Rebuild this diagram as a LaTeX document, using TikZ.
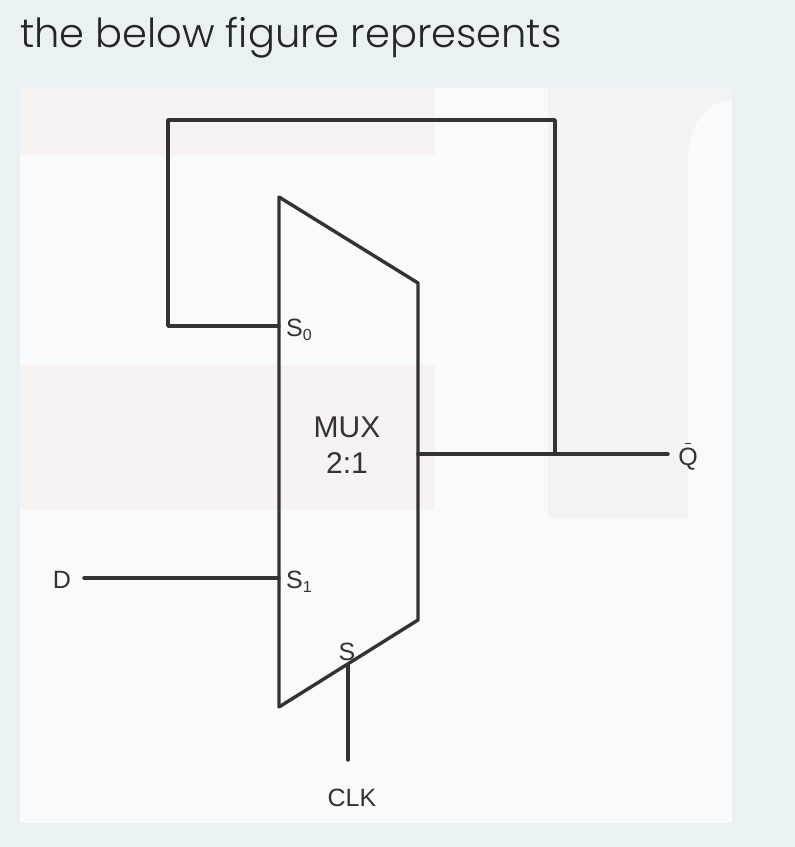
\documentclass[tikz,border=0pt]{standalone}
\usepackage{fontspec}
\setmainfont{Liberation Sans}
\newfontfamily\titlefont{Poppins Light}
\begin{document}
\begin{tikzpicture}[x=1pt,y=-1pt,
  wire/.style={draw=black!80,line width=3.4pt,line cap=round,line join=round},
  lbl/.style={text=black!80,inner sep=0pt,font=\fontsize{25}{27}\selectfont}]
\useasboundingbox (0,0) rectangle (795,847);
\fill[fill={rgb,255:red,233;green,241;blue,245}] (0,0) rectangle (795,847);
\fill[fill={rgb,255:red,248;green,250;blue,252}] (20,88) rectangle (732,823);
\fill[fill={rgb,255:red,246;green,243;blue,242}] (20,88) rectangle (435,155);
\fill[fill={rgb,255:red,246;green,243;blue,242}] (20,365) rectangle (435,510);
\fill[fill={rgb,255:red,242;green,243;blue,245}] (548,88) -- (548,518) -- (688,518) -- (688,160) .. controls (688,120) and (710,100) .. (732,100) -- (732,88) -- cycle;
\node[anchor=west,inner sep=0pt,text=black!85,font=\titlefont\fontsize{40}{44}\selectfont] (title) at (20,38) {the below figure represents};
\coordinate (tl) at (279,197); \coordinate (tr) at (418,283);
\coordinate (br) at (418,620); \coordinate (bl) at (279,707);
\draw[wire] (tl) -- (tr) -- (br) -- (bl) -- cycle;
\coordinate (s0) at (279,326); \coordinate (fb) at (168,326);
\coordinate (c1) at (168,120); \coordinate (c2) at (555,120);
\coordinate (j) at (555,454); \coordinate (out) at (418,454);
\coordinate (qe) at (668,454);
\draw[wire] (s0) -- (fb) -- (c1) -- (c2) -- (j);
\draw[wire] (out) -- (qe);
\coordinate (s1) at (279,578); \coordinate (de) at (84,578);
\draw[wire] (de) -- (s1);
\coordinate (sp) at (348,665); \coordinate (ce) at (348,760);
\draw[wire] (sp) -- (ce);
\node[lbl,anchor=west] (S0) at (286,330) {S\raisebox{-0.15em}{\fontsize{16}{17}\selectfont 0}};
\node[lbl,anchor=west] (S1) at (286,582) {S\raisebox{-0.15em}{\fontsize{16}{17}\selectfont 1}};
\node[lbl] (S) at (347,652) {S};
\node[lbl,align=center,font=\fontsize{30}{36}\selectfont] (mux) at (347,445) {MUX\\2:1};
\node[lbl] (Q) at (688,459) {Q};
\draw[black!80,line width=1.2pt] ([xshift=-3pt,yshift=4pt]Q.north) -- ([xshift=3pt,yshift=4pt]Q.north);
\node[lbl] (D) at (62,580) {D};
\node[lbl] (CLK) at (352,798) {CLK};
\end{tikzpicture}
\end{document}
